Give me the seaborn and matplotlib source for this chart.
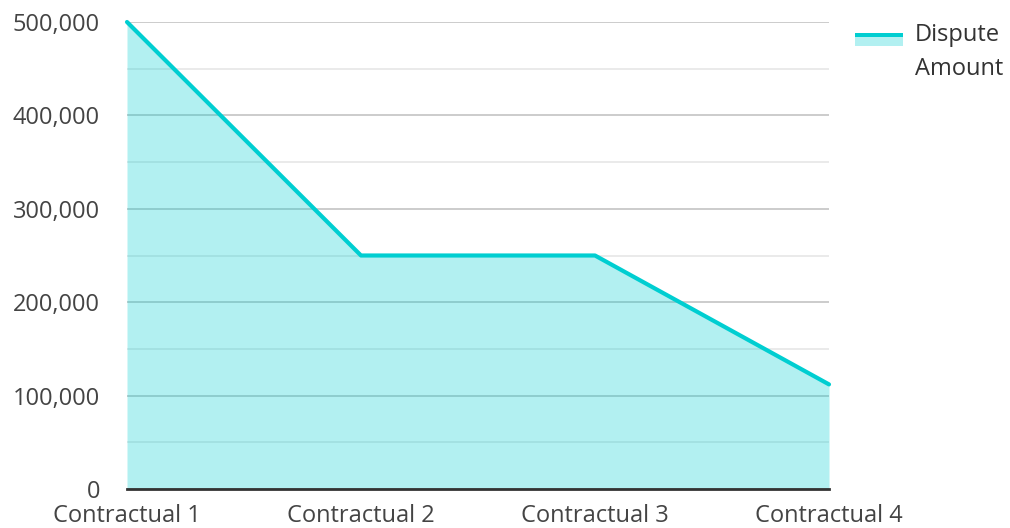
import matplotlib.pyplot as plt
import seaborn as sns
import numpy as np
from matplotlib.patches import Rectangle
from matplotlib.legend_handler import HandlerBase
from matplotlib.ticker import FuncFormatter, MultipleLocator

categories = ['Contractual 1', 'Contractual 2', 'Contractual 3', 'Contractual 4']
dispute_amount = [500000, 250000, 250000, 112000]
series_name = 'Dispute\nAmount'

line_color = '#00CED1'

sns.set_style('white')
plt.rcParams['font.family'] = ['Open Sans', 'DejaVu Sans']

fig = plt.figure(figsize=(10.1, 5.28), dpi=100)
ax = fig.add_axes([127 / 1010, 39 / 528, 702 / 1010, 467 / 528])

xs = np.arange(len(categories))
ax.fill_between(xs, dispute_amount, 0, color=line_color, alpha=0.3, linewidth=0, zorder=2)
sns.lineplot(x=xs, y=dispute_amount, color=line_color, linewidth=3, ax=ax, zorder=3)
for l in ax.lines:
    l.set_clip_on(False)

ax.set_xlim(0, len(categories) - 1)
ax.set_ylim(0, 500000)
ax.set_xticks(xs)
ax.set_xticklabels(categories)
ax.yaxis.set_major_locator(MultipleLocator(100000))
ax.yaxis.set_minor_locator(MultipleLocator(50000))
ax.yaxis.set_major_formatter(FuncFormatter(lambda v, p: f'{int(v):,}'))

ax.grid(axis='y', which='major', color='#c4c4c4', linewidth=1.2, zorder=1)
ax.grid(axis='y', which='minor', color='#e6e6e6', linewidth=1.2, zorder=1)
ax.set_axisbelow(True)

for s in ['top', 'right', 'left']:
    ax.spines[s].set_visible(False)
ax.spines['bottom'].set_color('#333333')
ax.spines['bottom'].set_linewidth(2)
ax.spines['bottom'].set_zorder(4)

ax.tick_params(axis='both', which='both', length=0, labelsize=17, colors='#444444')
ax.tick_params(axis='y', pad=19.5)
ax.tick_params(axis='x', pad=11)


class AreaHandler(HandlerBase):
    def create_artists(self, legend, orig, xd, yd, w, h, fontsize, trans):
        y0 = yd + 10.5
        fill = Rectangle((xd, y0), w, 6.5, facecolor=line_color,
                         alpha=0.3, linewidth=0, transform=trans)
        band = Rectangle((xd, y0 + 6.5), w, 3, facecolor=line_color,
                         linewidth=0, transform=trans)
        return [fill, band]


handle = Rectangle((0, 0), 1, 1)
leg = fig.legend([handle], [series_name], handler_map={Rectangle: AreaHandler()},
                 loc='upper left', bbox_to_anchor=(855 / 1010, 1 - 23 / 528),
                 frameon=False, fontsize=17, handlelength=2.03, handletextpad=0.5,
                 borderpad=0, borderaxespad=0, labelcolor='#333333')
for t in leg.get_texts():
    t.set_linespacing(1.55)

fig.savefig('out.png', dpi=100)
